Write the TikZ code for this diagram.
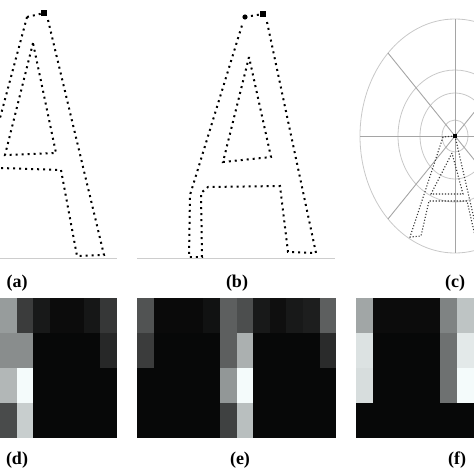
\documentclass[tikz,border=0pt]{standalone}
\usepackage{fontspec}
\setmainfont{Liberation Serif}
\definecolor{tint}{RGB}{244,251,251}
\definecolor{ringgray}{RGB}{200,200,200}
\definecolor{raygray}{RGB}{165,165,165}
\definecolor{basegray}{RGB}{205,205,205}
\tikzset{
  dotA/.style={line width=2pt,dash pattern=on 2pt off 4pt},
  dotC/.style={line width=1.1pt,dash pattern=on 1.1pt off 1.9pt,black!80},
  ring/.style={ringgray,line width=0.8pt},
  ray/.style={raygray,line width=0.9pt},
  baseln/.style={basegray,line width=1pt},
  lbl/.style={font=\fontsize{18}{20}\selectfont\bfseries,inner sep=0pt}
}
\begin{document}
\begin{tikzpicture}[x=1pt,y=-1pt]
  \useasboundingbox (0,0) rectangle (474,474);
  \clip (0,0) rectangle (474,474);
  % (a) letter
  \draw[dotA] (27,17) -- (44,13) (48,20) -- (104,255) -- (77,256) -- (61,170)
    -- (0,168);
  \draw[dotA] (27,17) -- (0,118);
  \draw[dotA] (33,43) -- (5,155) -- (56,153) -- cycle;
  \fill (41,10) rectangle (47,16);
  % (b) letter
  \draw[dotA] (245,17) -- (263,14) (267,22) -- (316,253) -- (288,252) -- (280,186)
    -- (208,187) -- (201,193) -- (202,257) -- (189,257) -- (190,195) -- (243,22);
  \draw[dotA] (249,57) -- (223,162) -- (271,157) -- cycle;
  \fill (245,17) circle (2.6);
  \fill (260,11) rectangle (266,17);
  % baselines
  \draw[baseln] (0,258) -- (117,258);
  \draw[baseln] (137,258) -- (335,258);
  % (c) polar grid
  \begin{scope}[shift={(455,136)}]
    \draw[ring] (0,0) ellipse (95 and 117);
    \draw[ring] (0,0) ellipse (57 and 66);
    \draw[ring] (0,0) ellipse (35 and 43);
    \draw[ring] (0,0) ellipse (13 and 16);
    \draw[ray] (-95,0) -- (95,0);
    \draw[ray] (0,-117) -- (0,117);
    \draw[ray] (-67,-83) -- (67,83);
    \draw[ray] (-67,83) -- (67,-83);
  \end{scope}
  % (c) letter
  \draw[dotC] (455,136) -- (443,137) -- (410,237) -- (421,236) -- (429,201)
    -- (467,201) -- (476,240);
  \draw[dotC] (455,136) -- (478,236);
  \draw[dotC] (452,153) -- (431,194) -- (463,194) -- cycle;
  \fill (453,134) rectangle (457,138);
  % pixel cells (d)
  \foreach \row [count=\r from 0] in {{62,24,10,5,5,9,22},{56,56,3,3,3,3,16},
      {73,100,3,3,3,3,3},{30,82,3,3,3,3,3}}
    \foreach \v [count=\c from 0] in \row
      \fill[tint!\v!black] (0+\c*16.72,298+\r*35) rectangle ++(16.8,35.1);
  % pixel cells (e)
  \foreach \row [count=\r from 0] in {{33,4,4,4,7,38,31,10,6,10,12,38},
      {24,3,3,3,3,38,70,3,3,3,3,17},{3,3,3,3,3,60,100,3,3,3,3,3},
      {3,3,3,3,3,26,76,3,3,3,3,3}}
    \foreach \v [count=\c from 0] in \row
      \fill[tint!\v!black] (137+\c*16.6,298+\r*35) rectangle ++(16.7,35.1);
  % pixel cells (f)
  \foreach \row [count=\r from 0] in {{66,5,5,5,5,52,78},{90,3,3,3,3,45,93},
      {88,3,3,3,3,45,100},{3,3,3,3,3,3,3}}
    \foreach \v [count=\c from 0] in \row
      \fill[tint!\v!black] (356+\c*16.8,298+\r*35) rectangle ++(16.9,35.1);
  % labels
  \node[lbl] (lbla) at (17,283) {(a)};
  \node[lbl] (lblb) at (237,283) {(b)};
  \node[lbl] (lblc) at (455,283) {(c)};
  \node[lbl] (lbld) at (17,460) {(d)};
  \node[lbl] (lble) at (240,460) {(e)};
  \node[lbl] (lblf) at (457,460) {(f)};
\end{tikzpicture}
\end{document}
